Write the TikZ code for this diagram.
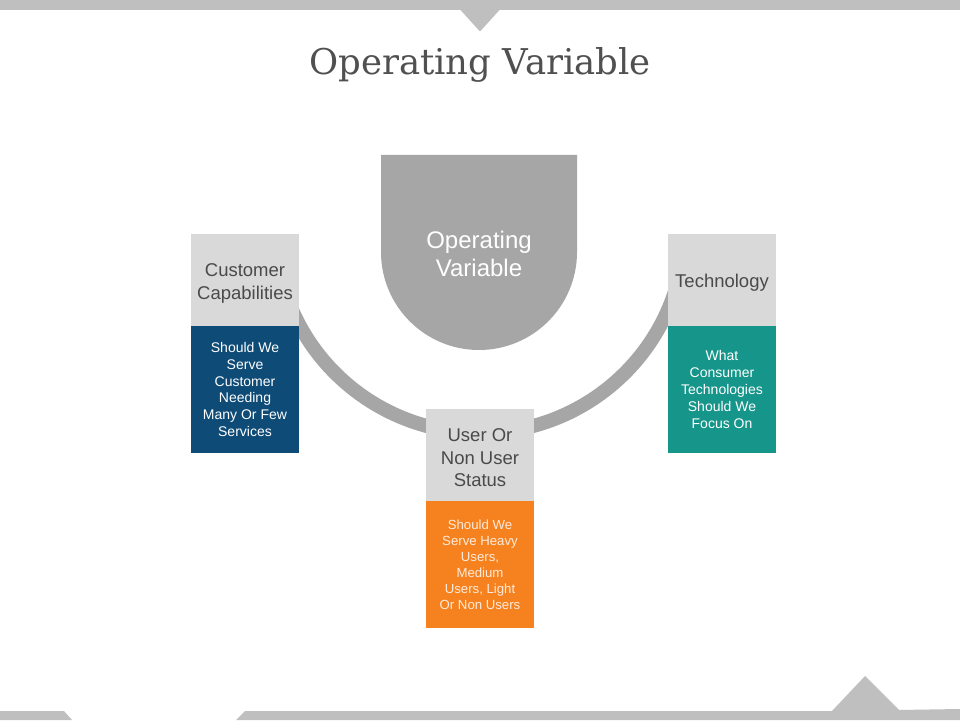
\documentclass[tikz,border=0pt]{standalone}
\usepackage{fontspec}
\setmainfont{Liberation Sans}
\newfontfamily\titlefont{DejaVu Serif}
\definecolor{bargray}{HTML}{BFBFBF}
\definecolor{midgray}{HTML}{A6A6A6}
\definecolor{lightgray}{HTML}{D9D9D9}
\definecolor{labelgray}{HTML}{4A4A4A}
\definecolor{titlegray}{HTML}{505050}
\definecolor{bluebox}{HTML}{0E4B77}
\definecolor{tealbox}{HTML}{16958A}
\definecolor{orangebox}{HTML}{F5821F}
\definecolor{peach}{HTML}{FFEBDD}
\begin{document}
\begin{tikzpicture}[x=1pt,y=1pt,
  hdrbox/.style={fill=lightgray, draw=none, minimum width=108pt, minimum height=92pt, inner sep=0pt},
  hdrtext/.style={align=center, text=labelgray, inner sep=0pt, font=\fontsize{18.5}{23}\selectfont},
  bodybox/.style={draw=none, minimum width=108pt, minimum height=127pt, inner sep=0pt,
    align=center, text=white, font=\fontsize{14}{16.8}\selectfont},
  bar/.style={fill=bargray, draw=none}]
\useasboundingbox (0,0) rectangle (960,720);
\fill[white] (0,0) rectangle (960,720);
% top bar with notch
\fill[bar] (0,710) rectangle (960,720);
\fill[bar] (460,710.5) -- (480,688.5) -- (500,710.5) -- cycle;
% bottom bars
\fill[bar] (0,0) -- (72,0) -- (64,9) -- (0,9) -- cycle;
\fill[bar] (236,0) -- (245,9) -- (832,9) -- (865,44) -- (899,10) -- (960,11) -- (960,0) -- cycle;
% title
\node[anchor=base, text=titlegray, font=\titlefont\fontsize{35.5}{40}\selectfont] (title) at (480,645) {Operating Variable};
% ring
\fill[midgray] ([shift={(480,492)}]190:212pt) arc (190:350:212pt)
  -- ([shift={(480,492)}]350:198pt) arc (350:190:198pt) -- cycle;
% central shape
\fill[midgray] (381,565) -- (577,565) -- (577,468) arc (0:-180:98pt) -- cycle;
\node[align=center, text=white, font=\fontsize{24}{28}\selectfont] (center) at (479,466) {Operating\\Variable};
% left
\node[hdrbox] (caphdr) at (245,440) {};
\node[hdrtext] (captxt) at ([yshift=-3pt]caphdr.center) {Customer\\Capabilities};
\node[bodybox, fill=bluebox] (capbody) at (245,330.5) {Should We\\Serve\\Customer\\Needing\\Many Or Few\\Services};
% right
\node[hdrbox] (techhdr) at (722,440) {};
\node[hdrtext] (techtxt) at ([yshift=-3pt]techhdr.center) {Technology};
\node[bodybox, fill=tealbox] (techbody) at (722,330.5) {What\\Consumer\\Technologies\\Should We\\Focus On};
% middle
\node[hdrbox] (userhdr) at (480,265) {};
\node[hdrtext, font=\fontsize{18.5}{22.5}\selectfont] (usertxt) at ([yshift=-3pt]userhdr.center) {User Or\\Non User\\Status};
\node[bodybox, fill=orangebox, text=peach, font=\fontsize{13.2}{16}\selectfont] (userbody) at (480,155.5) {Should We\\Serve Heavy\\Users,\\Medium\\Users, Light\\Or Non Users};
\end{tikzpicture}
\end{document}
